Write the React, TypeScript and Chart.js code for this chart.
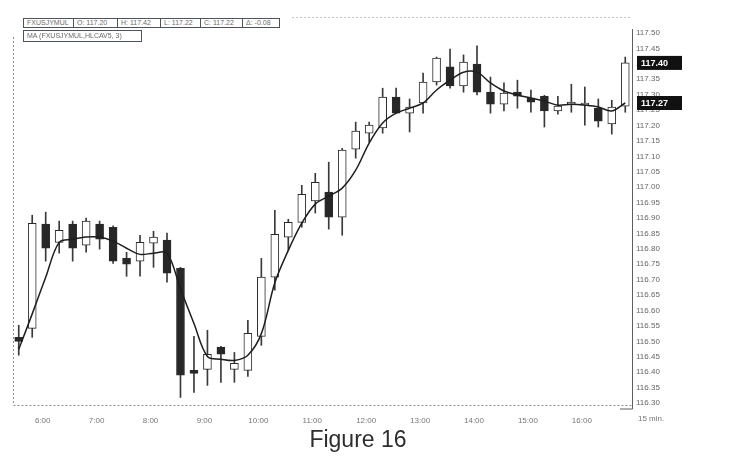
import React, { useEffect, useRef } from "react";
import { Chart, registerables } from "chart.js";

Chart.register(...registerables);

const TIMES = [
  "5:30", "5:45", "6:00", "6:15", "6:30", "6:45", "7:00", "7:15", "7:30", "7:45",
  "8:00", "8:15", "8:30", "8:45", "9:00", "9:15", "9:30", "9:45", "10:00", "10:15",
  "10:30", "10:45", "11:00", "11:15", "11:30", "11:45", "12:00", "12:15", "12:30", "12:45",
  "13:00", "13:15", "13:30", "13:45", "14:00", "14:15", "14:30", "14:45", "15:00", "15:15",
  "15:30", "15:45", "16:00", "16:15", "16:30", "16:45",
];

const HOUR_LABELS = ["6:00", "7:00", "8:00", "9:00", "10:00", "11:00", "12:00", "13:00", "14:00", "15:00", "16:00"];

const OPEN = [
  116.513, 116.542, 116.880, 116.821, 116.880, 116.812, 116.880, 116.870, 116.769, 116.760,
  116.818, 116.828, 116.737, 116.406, 116.409, 116.481, 116.409, 116.406, 116.516, 116.708,
  116.838, 116.886, 116.955, 116.984, 116.903, 117.123, 117.175, 117.192, 117.292, 117.240,
  117.273, 117.341, 117.390, 117.328, 117.399, 117.308, 117.269, 117.308, 117.289, 117.295,
  117.247, 117.269, 117.266, 117.256, 117.205, 117.263,
];
const HIGH = [
  116.552, 116.909, 116.919, 116.890, 116.890, 116.900, 116.890, 116.875, 116.789, 116.844,
  116.857, 116.851, 116.740, 116.516, 116.536, 116.484, 116.464, 116.568, 116.769, 116.925,
  116.896, 117.006, 117.045, 117.081, 117.126, 117.211, 117.211, 117.321, 117.321, 117.286,
  117.370, 117.422, 117.448, 117.429, 117.458, 117.357, 117.338, 117.347, 117.315, 117.298,
  117.295, 117.334, 117.325, 117.286, 117.282, 117.422,
];
const LOW = [
  116.455, 116.513, 116.760, 116.786, 116.760, 116.789, 116.799, 116.753, 116.711, 116.711,
  116.740, 116.692, 116.318, 116.334, 116.357, 116.367, 116.367, 116.386, 116.487, 116.666,
  116.795, 116.870, 116.916, 116.864, 116.844, 117.094, 117.146, 117.175, 117.240, 117.179,
  117.240, 117.331, 117.321, 117.308, 117.299, 117.240, 117.247, 117.256, 117.243, 117.195,
  117.237, 117.243, 117.201, 117.195, 117.172, 117.243,
];
const CLOSE = [
  116.500, 116.883, 116.802, 116.860, 116.802, 116.890, 116.831, 116.760, 116.750, 116.821,
  116.838, 116.721, 116.390, 116.396, 116.458, 116.458, 116.429, 116.526, 116.708, 116.847,
  116.886, 116.977, 117.016, 116.903, 117.120, 117.182, 117.201, 117.292, 117.240, 117.260,
  117.341, 117.419, 117.328, 117.406, 117.308, 117.269, 117.305, 117.295, 117.276, 117.247,
  117.263, 117.276, 117.273, 117.214, 117.260, 117.403,
];
const MA = [
  116.474, 116.589, 116.708, 116.821, 116.831, 116.838, 116.838, 116.825, 116.802, 116.782,
  116.786, 116.786, 116.670, 116.558, 116.451, 116.442, 116.438, 116.455, 116.525, 116.690,
  116.795, 116.883, 116.945, 116.971, 116.997, 117.055, 117.143, 117.208, 117.240, 117.256,
  117.273, 117.315, 117.347, 117.373, 117.373, 117.338, 117.312, 117.299, 117.289, 117.279,
  117.266, 117.269, 117.266, 117.260, 117.247, 117.273,
];

const Y_TICKS = [
  116.3, 116.35, 116.4, 116.45, 116.5, 116.55, 116.6, 116.65, 116.7, 116.75,
  116.8, 116.85, 116.9, 116.95, 117.0, 117.05, 117.1, 117.15, 117.2, 117.25,
  117.3, 117.35, 117.4, 117.45, 117.5,
];

const LEGEND_CELLS = ["FXUSJYMUL", "O: 117.20", "H: 117.42", "L: 117.22", "C: 117.22", "\u0394: -0.08"];
const LEGEND_WIDTHS = [51, 45, 44, 41, 43, 38];
const MA_LABEL = "MA (FXUSJYMUL,HLCAV5, 3)";

const Y_MIN = 116.2935;
const Y_MAX = 117.5519;

const decorPlugin = {
  id: "decor",
  beforeDatasetsDraw(chart: any) {
    const { ctx, chartArea } = chart;
    const { left, right, top, bottom } = chartArea;
    ctx.save();
    ctx.strokeStyle = "#8a8f94";
    ctx.lineWidth = 1;
    ctx.setLineDash([2, 2]);
    ctx.beginPath();
    ctx.moveTo(left + 1.5, top + 20);
    ctx.lineTo(left + 1.5, bottom);
    ctx.stroke();
    ctx.beginPath();
    ctx.moveTo(left + 1.5, bottom + 0.5);
    ctx.lineTo(right, bottom + 0.5);
    ctx.stroke();
    ctx.strokeStyle = "#c4c8cc";
    ctx.beginPath();
    ctx.moveTo(left + 280, top + 0.5);
    ctx.lineTo(right, top + 0.5);
    ctx.stroke();
    ctx.setLineDash([]);
    ctx.strokeStyle = "#5a5f66";
    ctx.beginPath();
    ctx.moveTo(right + 0.5, top + 12);
    ctx.lineTo(right + 0.5, bottom + 4);
    ctx.lineTo(right - 12, bottom + 4);
    ctx.stroke();
    ctx.restore();
  },
  afterDraw(chart: any) {
    const { ctx, chartArea, scales } = chart;
    const y = scales.y;
    const last = CLOSE.length - 1;
    const boxes = [CLOSE[last], MA[last]];
    ctx.save();
    boxes.forEach((v) => {
      const py = y.getPixelForValue(v);
      ctx.fillStyle = "#111";
      ctx.fillRect(chartArea.right + 5, py - 7, 45, 14);
      ctx.fillStyle = "#ffffff";
      ctx.font = "bold 9px 'Liberation Sans', Arial, sans-serif";
      ctx.textBaseline = "middle";
      ctx.textAlign = "left";
      ctx.fillText(v.toFixed(2), chartArea.right + 9, py + 0.5);
    });
    ctx.fillStyle = "#777";
    ctx.font = "8px 'Liberation Sans', Arial, sans-serif";
    ctx.textBaseline = "middle";
    ctx.textAlign = "left";
    ctx.fillText("15 min.", chartArea.right + 6, chartArea.bottom + 14);
    ctx.restore();
  },
};

function App() {
  const canvasRef = useRef<HTMLCanvasElement | null>(null);

  useEffect(() => {
    const canvas = canvasRef.current;
    if (!canvas) return;
    const chart = new Chart(canvas, {
      type: "bar",
      data: {
        labels: TIMES,
        datasets: [
          {
            type: "line",
            label: "MA",
            data: MA,
            borderColor: "#1e1e1e",
            borderWidth: 1.5,
            pointRadius: 0,
            tension: 0.35,
            fill: false,
            order: 1,
          } as any,
          {
            type: "bar",
            label: "body",
            data: TIMES.map((_, i) => [OPEN[i], CLOSE[i]]),
            backgroundColor: TIMES.map((_, i) => (CLOSE[i] < OPEN[i] ? "#272727" : "#ffffff")),
            borderColor: "#2b2b2b",
            borderWidth: 1,
            borderSkipped: false,
            barThickness: 8,
            minBarLength: 2,
            grouped: false,
            order: 2,
          } as any,
          {
            type: "bar",
            label: "wick",
            data: TIMES.map((_, i) => [LOW[i], HIGH[i]]),
            backgroundColor: "#3a3a3a",
            borderWidth: 0,
            barThickness: 1,
            grouped: false,
            order: 3,
          } as any,
        ],
      },
      options: {
        animation: false,
        responsive: false,
        devicePixelRatio: 1,
        layout: { padding: { left: 12, top: 17, right: 0, bottom: 0 } },
        plugins: {
          legend: { display: false },
          tooltip: { enabled: false },
        },
        scales: {
          x: {
            type: "category",
            offset: true,
            grid: { display: false },
            border: { display: false },
            afterFit: (s: any) => {
              s.height = 59;
            },
            ticks: {
              autoSkip: false,
              maxRotation: 0,
              minRotation: 0,
              padding: 3,
              labelOffset: -3,
              color: "#777",
              font: { size: 8, family: "'Liberation Sans', Arial, sans-serif" },
              callback: (_v: any, index: number) => (HOUR_LABELS.includes(TIMES[index]) ? TIMES[index] : ""),
            },
          },
          y: {
            type: "linear",
            position: "right",
            min: Y_MIN,
            max: Y_MAX,
            grid: { display: false, drawTicks: false },
            border: { display: false },
            afterFit: (s: any) => {
              s.width = 98;
            },
            afterBuildTicks: (s: any) => {
              s.ticks = Y_TICKS.map((v) => ({ value: v }));
            },
            ticks: {
              padding: 4,
              color: "#666",
              font: { size: 8, family: "'Liberation Sans Narrow', 'Liberation Sans', Arial, sans-serif" },
              callback: (v: any) => Number(v).toFixed(2),
            },
          },
        },
      },
      plugins: [decorPlugin],
    } as any);
    return () => chart.destroy();
  }, []);

  const cellStyle: React.CSSProperties = {
    boxSizing: "border-box",
    height: 10,
    border: "1px solid #4d5460",
    marginRight: -1,
    fontSize: 7,
    lineHeight: "8px",
    color: "#6a6a6a",
    paddingLeft: 3,
    whiteSpace: "nowrap",
    overflow: "hidden",
    background: "#fff",
  };

  return (
    <div
      style={{
        position: "absolute",
        left: 0,
        top: 0,
        width: 730,
        height: 464,
        background: "#ffffff",
        fontFamily: "'Liberation Sans', Arial, sans-serif",
        overflow: "hidden",
      }}
    >
      <canvas ref={canvasRef} width={730} height={464} style={{ position: "absolute", left: 0, top: 0 }} />
      <div style={{ position: "absolute", left: 23, top: 18, display: "flex" }}>
        {LEGEND_CELLS.map((t, i) => (
          <div key={i} style={{ ...cellStyle, width: LEGEND_WIDTHS[i] }}>
            {t}
          </div>
        ))}
      </div>
      <div style={{ position: "absolute", left: 23, top: 30, display: "flex" }}>
        <div style={{ ...cellStyle, width: 119, height: 12, lineHeight: "10px" }}>{MA_LABEL}</div>
      </div>
      <div
        style={{
          position: "absolute",
          left: 258,
          top: 426,
          width: 200,
          textAlign: "center",
          fontSize: 23,
          color: "#2e2e2e",
        }}
      >
        Figure 16
      </div>
    </div>
  );
}

export default App;
